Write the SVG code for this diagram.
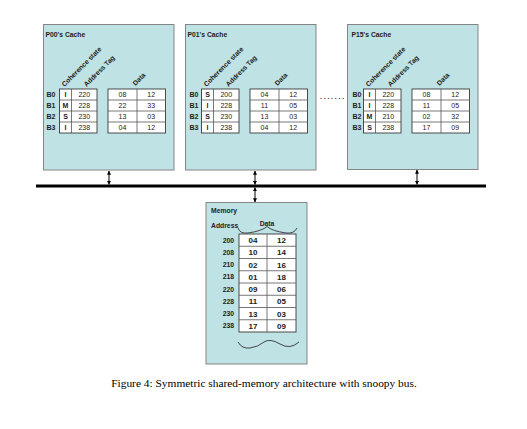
<svg xmlns="http://www.w3.org/2000/svg" width="527" height="429" viewBox="0 0 527 429">
<style>
.box{fill:#bfe2e4;stroke:#858585;stroke-width:1}
.tbl{fill:#fff;stroke:#3a3a3a;stroke-width:0.9}
.grid{fill:none;stroke:#555;stroke-width:0.8}
.t{font-family:"Liberation Sans",Arial,sans-serif;font-size:6.8px;fill:#222}
.n{font-size:7px}
.b{font-weight:bold}
.c{text-anchor:middle}
.r{text-anchor:end}
.m{font-family:"Liberation Sans",Arial,sans-serif;font-size:8px;font-weight:bold;fill:#222;text-anchor:middle}
.cap{font-family:"Liberation Serif","Times New Roman",serif;font-size:11.4px;fill:#000;text-anchor:middle}
.conn{stroke:#000;stroke-width:1;fill:none}
</style>
<defs>
<marker id="ah" viewBox="0 0 6 6" refX="5.5" refY="3" markerWidth="4" markerHeight="4" orient="auto-start-reverse" markerUnits="userSpaceOnUse">
<path d="M0,0L6,3L0,6z" fill="#000"/>
</marker>
</defs>
<rect width="527" height="429" fill="#fff"/>

<g id="cache-p00" transform="translate(43.5,0)">
<rect class="box" x="0" y="24.5" width="130.5" height="145.5"/>
<text class="t b" x="2" y="37">P00's Cache</text>
<text class="t b" transform="translate(21,87) rotate(-45)">Coherence state</text>
<text class="t b" transform="translate(43,87) rotate(-45)">Address Tag</text>
<text class="t b" transform="translate(92,86) rotate(-45)">Data</text>
<rect class="tbl" x="16" y="89" width="37.5" height="44"/>
<path class="grid" d="M16,100H53.5M16,111H53.5M16,122H53.5M28,89V133"/>
<rect class="tbl" x="64.5" y="89" width="57.5" height="44"/>
<path class="grid" d="M64.5,100H122M64.5,111H122M64.5,122H122M93.5,89V133"/>
<text class="t n b" x="3" y="97">B0</text><text class="t n b" x="3" y="108">B1</text><text class="t n b" x="3" y="119">B2</text><text class="t n b" x="3" y="130">B3</text>
<text class="t n b c" x="22" y="97">I</text><text class="t n b c" x="22" y="108">M</text><text class="t n b c" x="22" y="119">S</text><text class="t n b c" x="22" y="130">I</text>
<text class="t n c" x="40.75" y="97">220</text><text class="t n c" x="40.75" y="108">228</text><text class="t n c" x="40.75" y="119">230</text><text class="t n c" x="40.75" y="130">238</text>
<text class="t n c" x="79" y="97">08</text><text class="t n c" x="79" y="108">22</text><text class="t n c" x="79" y="119">13</text><text class="t n c" x="79" y="130">04</text>
<text class="t n c" x="107.75" y="97">12</text><text class="t n c" x="107.75" y="108">33</text><text class="t n c" x="107.75" y="119">03</text><text class="t n c" x="107.75" y="130">12</text>
</g>

<g id="cache-p01" transform="translate(185.5,0)">
<rect class="box" x="0" y="24.5" width="130.5" height="145.5"/>
<text class="t b" x="2" y="37">P01's Cache</text>
<text class="t b" transform="translate(21,87) rotate(-45)">Coherence state</text>
<text class="t b" transform="translate(43,87) rotate(-45)">Address Tag</text>
<text class="t b" transform="translate(92,86) rotate(-45)">Data</text>
<rect class="tbl" x="16" y="89" width="37.5" height="44"/>
<path class="grid" d="M16,100H53.5M16,111H53.5M16,122H53.5M28,89V133"/>
<rect class="tbl" x="64.5" y="89" width="57.5" height="44"/>
<path class="grid" d="M64.5,100H122M64.5,111H122M64.5,122H122M93.5,89V133"/>
<text class="t n b" x="4" y="97">B0</text><text class="t n b" x="4" y="108">B1</text><text class="t n b" x="4" y="119">B2</text><text class="t n b" x="4" y="130">B3</text>
<text class="t n b c" x="22" y="97">S</text><text class="t n b c" x="22" y="108">I</text><text class="t n b c" x="22" y="119">S</text><text class="t n b c" x="22" y="130">I</text>
<text class="t n c" x="40.75" y="97">200</text><text class="t n c" x="40.75" y="108">228</text><text class="t n c" x="40.75" y="119">230</text><text class="t n c" x="40.75" y="130">238</text>
<text class="t n c" x="79" y="97">04</text><text class="t n c" x="79" y="108">11</text><text class="t n c" x="79" y="119">13</text><text class="t n c" x="79" y="130">04</text>
<text class="t n c" x="107.75" y="97">12</text><text class="t n c" x="107.75" y="108">05</text><text class="t n c" x="107.75" y="119">03</text><text class="t n c" x="107.75" y="130">12</text>
</g>

<text id="ellipsis" class="t b" x="320" y="99" font-size="7" letter-spacing="1.8">.......</text>

<g id="cache-p15" transform="translate(347.5,0)">
<rect class="box" x="0" y="24.5" width="130.5" height="145"/>
<text class="t b" x="4" y="37">P15's Cache</text>
<text class="t b" transform="translate(21,87) rotate(-45)">Coherence state</text>
<text class="t b" transform="translate(43,87) rotate(-45)">Address Tag</text>
<text class="t b" transform="translate(92,86) rotate(-45)">Data</text>
<rect class="tbl" x="16" y="89" width="37.5" height="44"/>
<path class="grid" d="M16,100H53.5M16,111H53.5M16,122H53.5M28,89V133"/>
<rect class="tbl" x="64.5" y="89" width="57.5" height="44"/>
<path class="grid" d="M64.5,100H122M64.5,111H122M64.5,122H122M93.5,89V133"/>
<text class="t n b" x="5" y="97">B0</text><text class="t n b" x="5" y="108">B1</text><text class="t n b" x="5" y="119">B2</text><text class="t n b" x="5" y="130">B3</text>
<text class="t n b c" x="22" y="97">I</text><text class="t n b c" x="22" y="108">I</text><text class="t n b c" x="22" y="119">M</text><text class="t n b c" x="22" y="130">S</text>
<text class="t n c" x="40.75" y="97">220</text><text class="t n c" x="40.75" y="108">228</text><text class="t n c" x="40.75" y="119">210</text><text class="t n c" x="40.75" y="130">238</text>
<text class="t n c" x="79" y="97">08</text><text class="t n c" x="79" y="108">11</text><text class="t n c" x="79" y="119">02</text><text class="t n c" x="79" y="130">17</text>
<text class="t n c" x="107.75" y="97">12</text><text class="t n c" x="107.75" y="108">05</text><text class="t n c" x="107.75" y="119">32</text><text class="t n c" x="107.75" y="130">09</text>
</g>

<g id="memory">
<rect class="box" x="206" y="202.5" width="101" height="161.5"/>
<text class="t b" x="211" y="212.5">Memory</text>
<text class="t b" x="211" y="227.5">Address</text>
<text class="t b c" x="267" y="225.5" font-size="7">Data</text>
<path d="M238,228Q240,234 248,233Q262,231 267,226.5Q272,231 286,233Q294,234 297,228" fill="none" stroke="#333" stroke-width="0.9"/>
<rect class="tbl" x="239" y="234" width="57" height="98"/>
<path class="grid" d="M239,246.25H296M239,258.5H296M239,270.75H296M239,283H296M239,295.25H296M239,307.5H296M239,319.75H296M267,234V332"/>
<text class="t b r" x="234" y="242.5">200</text><text class="t b r" x="234" y="254.7">208</text><text class="t b r" x="234" y="267">210</text><text class="t b r" x="234" y="279.2">218</text><text class="t b r" x="234" y="291.5">220</text><text class="t b r" x="234" y="303.7">228</text><text class="t b r" x="234" y="316">230</text><text class="t b r" x="234" y="328.2">238</text>
<text class="m" x="253" y="243">04</text><text class="m" x="253" y="255.2">10</text><text class="m" x="253" y="267.5">02</text><text class="m" x="253" y="279.7">01</text><text class="m" x="253" y="292">09</text><text class="m" x="253" y="304.2">11</text><text class="m" x="253" y="316.5">13</text><text class="m" x="253" y="328.7">17</text>
<text class="m" x="281.5" y="243">12</text><text class="m" x="281.5" y="255.2">14</text><text class="m" x="281.5" y="267.5">16</text><text class="m" x="281.5" y="279.7">18</text><text class="m" x="281.5" y="292">06</text><text class="m" x="281.5" y="304.2">05</text><text class="m" x="281.5" y="316.5">03</text><text class="m" x="281.5" y="328.7">09</text>
<path d="M238,342Q242,349 250,348Q258,347 264,342Q270,338 280,344Q290,350 299,342" fill="none" stroke="#333" stroke-width="0.9"/>
</g>

<g id="connectors">
<line x1="36" y1="186" x2="486" y2="186" stroke="#000" stroke-width="3"/>
<line class="conn" x1="109" y1="171" x2="109" y2="184.5" marker-start="url(#ah)" marker-end="url(#ah)"/>
<line class="conn" x1="255" y1="171" x2="255" y2="184.5" marker-start="url(#ah)" marker-end="url(#ah)"/>
<line class="conn" x1="255" y1="187.5" x2="255" y2="202" marker-start="url(#ah)" marker-end="url(#ah)"/>
<line class="conn" x1="417" y1="170" x2="417" y2="184.5" marker-start="url(#ah)" marker-end="url(#ah)"/>
</g>

<text class="cap" x="264" y="387">Figure 4: Symmetric shared-memory architecture with snoopy bus.</text>
</svg>
